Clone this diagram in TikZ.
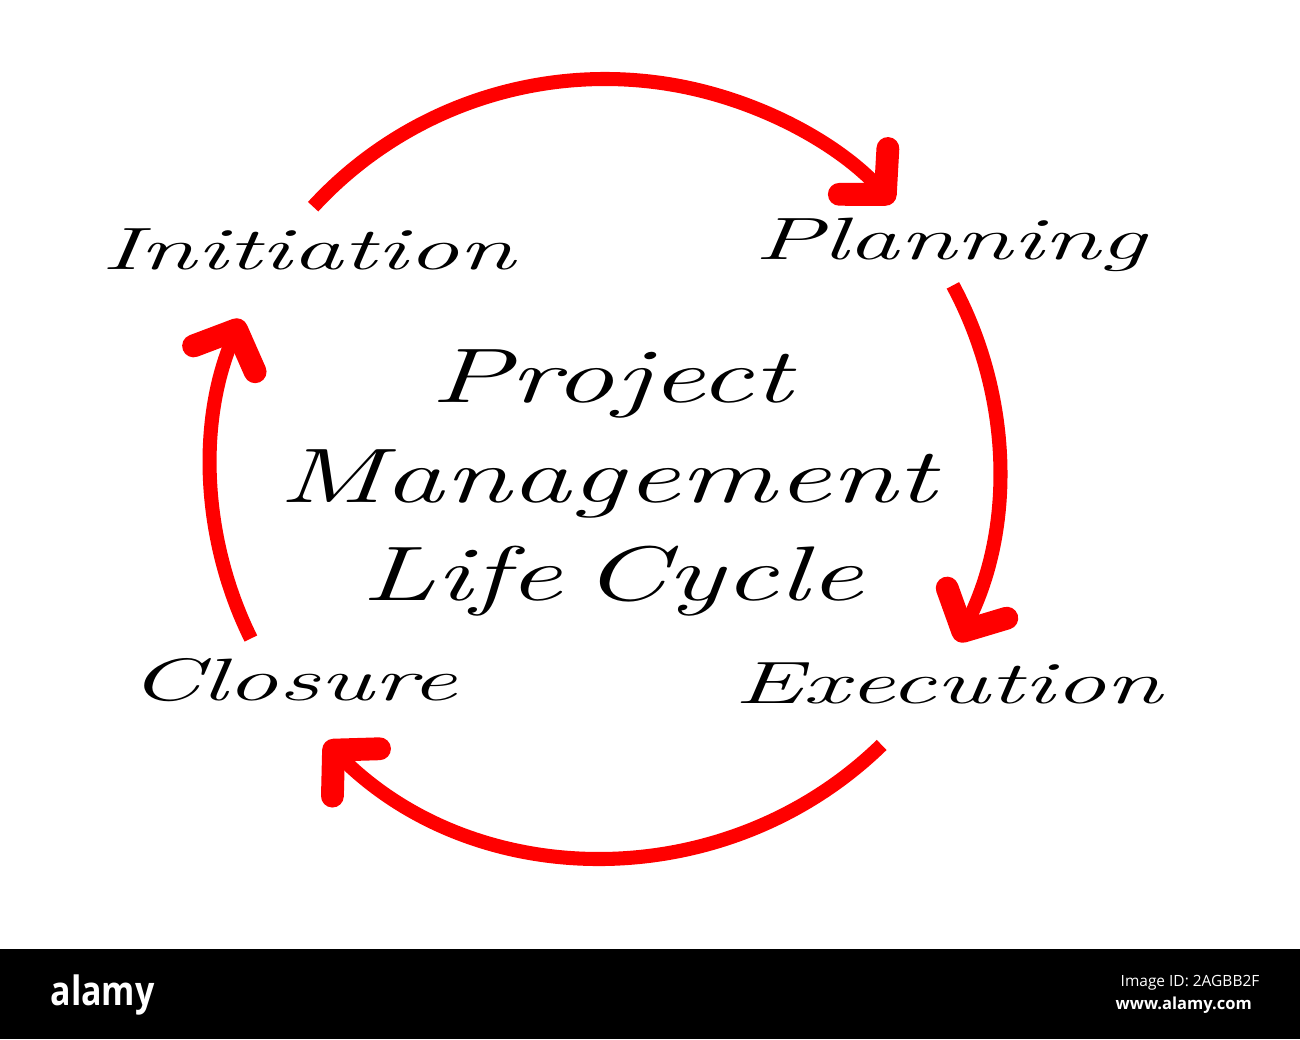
\documentclass[tikz,border=0pt]{standalone}
\usepackage{fontspec}
\newfontfamily\barfont{Open Sans}
\usetikzlibrary{arrows.meta}

\begin{document}
\begin{tikzpicture}
    \tikzstyle{stage}=[font=\fontsize{17}{21}\selectfont\itshape, xscale=1.72, anchor=base, inner sep=0pt]
    \tikzstyle{heading}=[font=\fontsize{22}{26}\selectfont\itshape, xscale=1.56, anchor=base, inner sep=0pt]
    \tikzstyle{redarc}=[red, line width=4pt, -{Straight Barb[length=9pt, width=19pt, line width=6.5pt, round]}]
    \tikzstyle{barlabel}=[white, anchor=base west, inner sep=0pt]

    \useasboundingbox (0,0) rectangle (13,10.39);
    \fill[black] (0,0) rectangle (13,0.90);

    \coordinate (hub) at (6.05,5.71);

    % the four stages
    \node[stage] (initiation) at (3.08,7.69) {Initiation};
    \node[stage] (planning) at (9.50,7.79) {Planning};
    \node[stage] (execution) at (9.48,3.36) {Execution};
    \node[stage] (closure) at (2.93,3.39) {Closure};

    % title in the middle
    \node[heading] (project) at (6.11,6.36) {Project};
    \node[heading] (management) at (6.07,5.36) {Management};
    \node[heading] (lifecycle) at (6.12,4.39) {Life\,Cycle};

    % arcs from stage to stage
    \foreach \from/\to in {137.8/43, 28/-26.5, -45.4/-135.2, 206/157.5}
        \draw[redarc] (hub) ++(\from:3.94 and 3.89) arc[start angle=\from, end angle=\to, x radius=3.94, y radius=3.89];

    % bar at the bottom
    \node[barlabel, font=\barfont\bfseries\fontsize{11.5}{12}\selectfont, xscale=0.84] (brand) at (0.50,0.34) {alamy};
    \node[barlabel, font=\barfont\fontsize{4.4}{5}\selectfont] (imageid) at (11.20,0.53) {Image ID: 2AGBB2F};
    \node[barlabel, font=\barfont\bfseries\fontsize{4.7}{5}\selectfont] (site) at (11.15,0.30) {www.alamy.com};
\end{tikzpicture}
\end{document}
